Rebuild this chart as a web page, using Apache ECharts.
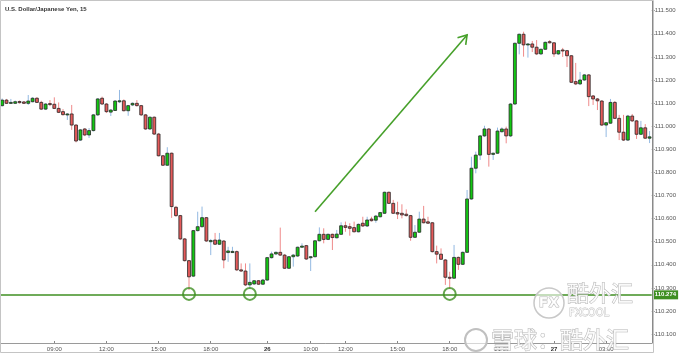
<!DOCTYPE html>
<html>
<head>
<meta charset="utf-8">
<script src="https://cdn.jsdelivr.net/npm/echarts@6/dist/echarts.min.js"></script>
<style>
html,body{margin:0;padding:0;background:#fff;}
#c{width:679px;height:356px;}
</style>
</head>
<body>
<div id="c"></div>
<script>
// ---- data (USD/JPY, 15-minute candles) ----
const chartTitle = 'U.S. Dollar/Japanese Yen, 15';

const opens = [
111.089,111.113,111.099,111.099,111.107,111.105,111.099,111.106,111.121,111.103,
111.074,111.098,111.095,111.077,111.063,111.050,111.053,111.005,110.940,110.988,
110.962,110.981,111.049,111.121,111.096,111.061,111.068,111.106,111.110,111.067,
111.092,111.099,111.089,111.049,110.988,111.039,110.966,110.872,110.831,110.883,
110.649,110.613,110.512,110.418,110.351,110.548,110.565,110.604,110.500,110.507,
110.489,110.503,110.453,110.453,110.457,110.378,110.373,110.313,110.317,110.331,
110.316,110.334,110.431,110.447,110.454,110.442,110.385,110.435,110.438,110.476,
110.483,110.431,110.435,110.504,110.532,110.510,110.532,110.517,110.532,110.569,
110.565,110.561,110.543,110.580,110.568,110.598,110.593,110.608,110.623,110.714,
110.666,110.626,110.623,110.619,110.613,110.519,110.541,110.598,110.586,110.582,
110.457,110.446,110.421,110.346,110.342,110.432,110.402,110.454,110.685,110.818,
110.875,110.958,110.988,110.878,110.883,110.976,110.988,110.958,111.096,111.359,
111.398,111.352,111.356,111.342,111.313,111.333,111.366,111.361,111.313,111.330,
111.327,111.305,111.193,111.183,111.200,111.222,111.131,111.118,111.109,111.005,
111.013,111.103,111.034,110.974,110.940,111.044,111.023,110.965,110.993,110.948];

const closes = [
111.113,111.099,111.103,111.106,111.102,111.099,111.109,111.121,111.103,111.074,
111.096,111.095,111.077,111.060,111.050,111.053,111.005,110.936,110.984,110.962,
110.981,111.049,111.118,111.096,111.063,111.070,111.109,111.110,111.067,111.089,
111.099,111.089,111.049,110.988,111.039,110.966,110.872,110.831,110.883,110.652,
110.613,110.512,110.418,110.348,110.548,110.565,110.604,110.503,110.505,110.489,
110.507,110.421,110.460,110.458,110.378,110.373,110.313,110.324,110.331,110.316,
110.334,110.431,110.447,110.454,110.442,110.385,110.435,110.442,110.476,110.481,
110.425,110.435,110.504,110.532,110.510,110.532,110.518,110.533,110.569,110.562,
110.558,110.543,110.575,110.568,110.594,110.591,110.611,110.626,110.714,110.666,
110.623,110.620,110.616,110.613,110.519,110.541,110.598,110.582,110.580,110.457,
110.446,110.424,110.346,110.342,110.432,110.402,110.454,110.685,110.818,110.875,
110.958,110.988,110.878,110.883,110.979,110.988,110.958,111.096,111.359,111.398,
111.352,111.356,111.342,111.313,111.333,111.363,111.361,111.313,111.327,111.326,
111.305,111.190,111.183,111.200,111.222,111.128,111.118,111.110,111.005,111.015,
111.103,111.034,110.974,110.940,111.044,111.023,110.965,110.993,110.948,110.954];

const lows = [
111.085,111.096,111.096,111.096,111.098,111.096,111.092,111.103,111.101,111.070,
111.070,111.087,111.074,111.057,111.046,111.027,110.984,110.930,110.936,110.957,
110.949,110.977,111.044,111.092,111.057,111.044,111.066,111.100,111.064,111.045,
111.087,111.085,111.044,110.984,110.984,110.962,110.869,110.828,110.828,110.603,
110.607,110.507,110.414,110.291,110.347,110.544,110.561,110.499,110.442,110.486,
110.486,110.385,110.413,110.451,110.373,110.369,110.308,110.295,110.313,110.313,
110.313,110.330,110.427,110.442,110.438,110.382,110.382,110.392,110.434,110.473,
110.421,110.373,110.432,110.501,110.493,110.507,110.464,110.514,110.529,110.543,
110.526,110.540,110.540,110.564,110.564,110.587,110.582,110.605,110.620,110.663,
110.620,110.598,110.601,110.609,110.504,110.516,110.538,110.579,110.577,110.453,
110.406,110.421,110.313,110.295,110.339,110.378,110.399,110.451,110.681,110.796,
110.854,110.953,110.825,110.854,110.880,110.973,110.926,110.953,111.092,111.311,
111.301,111.297,111.321,111.308,111.308,111.330,111.358,111.300,111.308,111.300,
111.256,111.187,111.178,111.178,111.196,111.087,111.092,111.070,111.001,110.953,
111.010,111.031,110.940,110.936,110.936,111.018,110.945,110.962,110.945,110.927];

const highs = [
111.120,111.118,111.118,111.111,111.111,111.109,111.135,111.126,111.126,111.110,
111.100,111.113,111.125,111.103,111.074,111.057,111.092,111.009,110.988,110.992,
110.992,111.053,111.122,111.128,111.100,111.074,111.113,111.157,111.116,111.092,
111.103,111.113,111.092,111.053,111.042,111.042,110.971,110.875,110.909,110.886,
110.655,110.616,110.516,110.421,110.551,110.630,110.652,110.607,110.512,110.538,
110.538,110.507,110.478,110.478,110.462,110.406,110.406,110.406,110.334,110.334,
110.339,110.434,110.457,110.458,110.561,110.447,110.438,110.447,110.479,110.493,
110.486,110.438,110.507,110.562,110.558,110.535,110.535,110.551,110.584,110.587,
110.580,110.587,110.579,110.608,110.608,110.608,110.616,110.629,110.717,110.717,
110.681,110.673,110.662,110.640,110.616,110.572,110.630,110.655,110.608,110.585,
110.483,110.471,110.425,110.370,110.486,110.436,110.458,110.724,110.868,110.890,
110.962,111.002,110.992,110.886,110.994,110.995,110.998,111.100,111.362,111.401,
111.409,111.360,111.369,111.373,111.336,111.367,111.373,111.364,111.330,111.339,
111.330,111.308,111.274,111.235,111.226,111.226,111.135,111.122,111.113,111.018,
111.118,111.109,111.049,111.049,111.049,111.053,111.027,111.023,111.009,110.979];

// time-axis labels: candle index and text
const timeLabelIndex = [12, 24, 36, 48, 61, 71, 79, 91, 103, 115, 127, 139];
const timeLabelText  = ['09:00','12:00','15:00','18:00','26','10:00','12:00','15:00','18:00','21:00','27','03:00'];

// price-axis tick labels
const priceTicks = [110.1,110.2,110.3,110.4,110.5,110.6,110.7,110.8,110.9,111.0,111.1,111.2,111.3,111.4,111.5];
const priceMin = 110.0615;
const priceMax = 111.542;

// support level, touch points and trend arrow (candle index, price)
const supportLevel = 110.274;
const touchIndex = [43, 57, 103];
const arrowFrom = [72, 110.630];
const arrowTo = [107, 111.395];

// ---- chart ----
const GREEN_LINE = '#3f8f22';
const BULL = '#12c812', BEAR = '#e55a5a', EDGE = '#262626';
const WICK_UP = '#93b9e2', WICK_DN = '#ef8a8a';
const FONT = 'Liberation Sans, Arial, sans-serif';

const categories = opens.map((_, i) => String(i));
const labelMap = {};
timeLabelIndex.forEach((idx, k) => { labelMap[idx] = timeLabelText[k]; });
const candleData = opens.map((o, i) => [i, o, closes[i], lows[i], highs[i]]);

const chart = echarts.init(document.getElementById('c'), null, {renderer: 'canvas'});

const option = {
  animation: false,
  backgroundColor: '#fff',
  title: {
    text: chartTitle, left: 5, top: 6, padding: 0,
    textStyle: {fontSize: 6, fontWeight: 'bold', color: '#333', fontFamily: FONT}
  },
  grid: {left: 0, top: 1, width: 653, height: 342, containLabel: false},
  xAxis: {
    type: 'category', data: categories, boundaryGap: true,
    axisLine: {show: true, lineStyle: {color: '#9a9a9a', width: 1}},
    axisTick: {show: true, inside: true, length: 2, alignWithLabel: true,
      interval: (i) => labelMap[i] !== undefined, lineStyle: {color: '#888'}},
    axisLabel: {
      interval: (i) => labelMap[i] !== undefined,
      formatter: (v, i) => {
        const t = labelMap[i] || '';
        return t.indexOf(':') < 0 && t ? '{d|' + t + '}' : t;
      },
      fontSize: 6, color: '#555', margin: 3, fontFamily: FONT,
      rich: {d: {fontSize: 6, fontWeight: 'bold', color: '#333', fontFamily: FONT}}
    },
    splitLine: {show: false}
  },
  yAxis: {
    type: 'value', position: 'right', min: priceMin, max: priceMax, scale: true,
    axisLine: {show: true, lineStyle: {color: '#8a8a8a', width: 1}},
    axisTick: {show: true, length: 3, customValues: priceTicks, lineStyle: {color: '#888'}},
    axisLabel: {customValues: priceTicks, formatter: (v) => v.toFixed(3), fontSize: 6,
      color: '#555', margin: 3, fontFamily: FONT},
    splitLine: {show: false}
  },
  series: [
    {
      type: 'custom', name: 'candles', data: candleData, clip: true,
      encode: {x: 0, y: [1, 2, 3, 4]},
      renderItem: (params, api) => {
        const i = api.value(0);
        const o = api.value(1), c = api.value(2), l = api.value(3), h = api.value(4);
        const pO = api.coord([i, o]), pC = api.coord([i, c]);
        const pL = api.coord([i, l]), pH = api.coord([i, h]);
        const xc = pO[0];
        const up = c >= o;
        const top = Math.min(pO[1], pC[1]);
        const bot = Math.max(pO[1], pC[1]);
        return {
          type: 'group',
          children: [
            {type: 'line', shape: {x1: xc, y1: pH[1], x2: xc, y2: pL[1]},
             style: {stroke: up ? WICK_UP : WICK_DN, lineWidth: 1}},
            {type: 'rect', shape: {x: xc - 1.45, y: top, width: 2.9, height: Math.max(bot - top, 1)},
             style: {fill: up ? BULL : BEAR, stroke: EDGE, lineWidth: 0.8}}
          ]
        };
      },
      markLine: {
        silent: true, symbol: 'none', animation: false,
        data: [{yAxis: supportLevel}],
        lineStyle: {color: GREEN_LINE, width: 1.6, type: 'solid'},
        label: {show: true, position: 'end', formatter: supportLevel.toFixed(3),
          color: '#fff', backgroundColor: GREEN_LINE, fontSize: 6, fontWeight: 'bold',
          padding: [2, 2, 1, 2], distance: 1, fontFamily: FONT}
      }
    },
    {
      type: 'scatter', name: 'touches', z: 5,
      data: touchIndex.map((i) => [i, supportLevel]),
      symbol: 'circle', symbolSize: 12,
      itemStyle: {color: 'rgba(0,0,0,0)', borderColor: GREEN_LINE, borderWidth: 2}
    },
    {
      type: 'custom', name: 'arrow', z: 6, clip: false,
      data: [[arrowFrom[0], arrowFrom[1], arrowTo[0], arrowTo[1]]],
      encode: {x: [0, 2], y: [1, 3]},
      renderItem: (params, api) => {
        const p0 = api.coord([api.value(0), api.value(1)]);
        const p1 = api.coord([api.value(2), api.value(3)]);
        const ang = Math.atan2(p1[1] - p0[1], p1[0] - p0[0]);
        const len = 10, spread = Math.PI / 5.5;
        const a1 = [p1[0] - len * Math.cos(ang - spread), p1[1] - len * Math.sin(ang - spread)];
        const a2 = [p1[0] - len * Math.cos(ang + spread), p1[1] - len * Math.sin(ang + spread)];
        return {
          type: 'group',
          children: [
            {type: 'line', shape: {x1: p0[0], y1: p0[1], x2: p1[0], y2: p1[1]},
             style: {stroke: '#46a02a', lineWidth: 1.6}},
            {type: 'polyline', shape: {points: [a1, p1, a2]},
             style: {stroke: '#46a02a', lineWidth: 1.6, fill: null}}
          ]
        };
      }
    }
  ],
  graphic: [
    {type: 'rect', z: 100, silent: true, shape: {x: 0.5, y: 0.5, width: 653, height: 352},
     style: {fill: null, stroke: '#c4c4c4', lineWidth: 1}},
    // watermark
    {type: 'circle', z: 90, silent: true, shape: {cx: 549, cy: 303, r: 15},
     style: {fill: 'rgba(255,255,255,0.6)', stroke: '#c8c8c8', lineWidth: 1.5}},
    {type: 'text', z: 91, silent: true, x: 549, y: 303,
     style: {text: 'FX', fill: 'rgba(255,255,255,0.8)', stroke: '#b8b8b8', lineWidth: 1,
       fontSize: 14, fontWeight: 'bold', fontFamily: 'DejaVu Sans, sans-serif', align: 'center', verticalAlign: 'middle'}},
    {type: 'text', z: 91, silent: true, x: 567, y: 293,
     style: {text: '酷外汇', fill: 'rgba(255,255,255,0.85)', stroke: '#b5b5b5', lineWidth: 1,
       fontSize: 22, fontFamily: 'Noto Sans CJK SC', align: 'left', verticalAlign: 'middle'}},
    {type: 'text', z: 91, silent: true, x: 569, y: 313,
     style: {text: 'FXCOOL', fill: 'rgba(255,255,255,0.85)', stroke: '#bdbdbd', lineWidth: 0.8,
       fontSize: 10, fontFamily: 'DejaVu Sans, sans-serif', align: 'left', verticalAlign: 'middle'}},
    {type: 'circle', z: 90, silent: true, shape: {cx: 476, cy: 340, r: 11},
     style: {fill: 'rgba(255,255,255,0.6)', stroke: '#c0c0c0', lineWidth: 2}},
    {type: 'text', z: 91, silent: true, x: 491, y: 339,
     style: {text: '雪球：酷外汇', fill: 'rgba(255,255,255,0.85)', stroke: '#b5b5b5', lineWidth: 1,
       fontSize: 23, fontFamily: 'Noto Sans CJK SC', align: 'left', verticalAlign: 'middle'}}
  ]
};

chart.setOption(option);
</script>
</body>
</html>
